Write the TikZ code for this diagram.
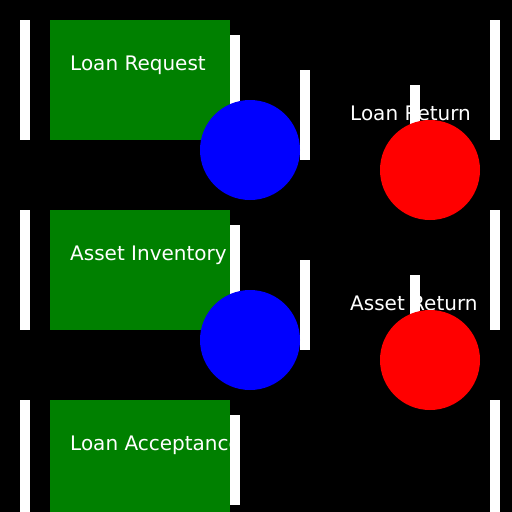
\documentclass[tikz,border=0pt]{standalone}
\usepackage{fontspec}
\setmainfont{DejaVu Sans}
\usetikzlibrary{positioning}
\definecolor{boxgreen}{rgb}{0, 0.502, 0}

\begin{document}
\begin{tikzpicture}[x=1pt, y=-1pt,
    bar/.style={fill=white},
    stage/.style={fill=boxgreen},
    lbl/.style={text=white, anchor=base west, inner sep=0pt, font=\fontsize{20}{24}\selectfont},
    lend/.style={circle, fill=blue, minimum size=100pt, inner sep=0pt},
    back/.style={circle, fill=red, minimum size=100pt, inner sep=0pt}]
    \useasboundingbox (0,0) rectangle (512,512);
    \fill[black] (0,0) rectangle (512,512);

    % row 1
    \fill[bar] (20,20) rectangle ++(10,120);
    \fill[bar] (490,20) rectangle ++(10,120);
    \fill[stage] (50,20) rectangle ++(180,120);
    \node[lbl] (request) at (70,70) {Loan Request};
    \node[lbl] (return) at (350,120) {Loan Return};
    \fill[bar] (230,35) rectangle ++(10,90);
    \fill[bar] (300,70) rectangle ++(10,90);
    \fill[bar] (410,85) rectangle ++(10,90);
    \node[lend] (lendA) at (250,150) {};
    \node[back] (backA) at (430,170) {};

    % row 2
    \fill[bar] (20,210) rectangle ++(10,120);
    \fill[bar] (490,210) rectangle ++(10,120);
    \fill[stage] (50,210) rectangle ++(180,120);
    \node[lbl] (inventory) at (70,260) {Asset Inventory};
    \node[lbl] (assetret) at (350,310) {Asset Return};
    \fill[bar] (230,225) rectangle ++(10,90);
    \fill[bar] (300,260) rectangle ++(10,90);
    \fill[bar] (410,275) rectangle ++(10,90);
    \node[lend] (lendB) at (250,340) {};
    \node[back] (backB) at (430,360) {};

    % row 3
    \fill[bar] (20,400) rectangle ++(10,120);
    \fill[bar] (490,400) rectangle ++(10,120);
    \fill[stage] (50,400) rectangle ++(180,120);
    \node[lbl] (accept) at (70,450) {Loan Acceptance};
    \fill[bar] (230,415) rectangle ++(10,90);
\end{tikzpicture}
\end{document}
